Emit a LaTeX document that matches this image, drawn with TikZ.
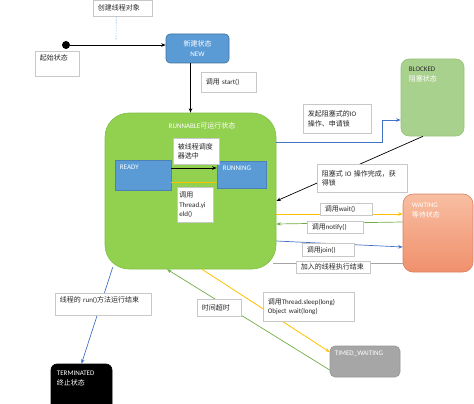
\documentclass[tikz,border=0pt]{standalone}
\usepackage{fontspec}
\setmainfont{Carlito}
\newfontfamily\cjk{Noto Sans CJK SC}
\newcommand\zh[1]{{\cjk #1}}
\usetikzlibrary{arrows.meta}
\definecolor{newblue}{HTML}{5B9BD5}
\definecolor{newborder}{HTML}{41719C}
\definecolor{rgreen}{HTML}{92D050}
\definecolor{rgreenb}{HTML}{7FBF45}
\definecolor{bgreen}{HTML}{A9D18E}
\definecolor{bgreenb}{HTML}{97C47A}
\definecolor{wtop}{HTML}{F8BEA2}
\definecolor{wbot}{HTML}{F0906C}
\definecolor{tgray}{HTML}{A6A6A6}
\definecolor{lblue}{HTML}{4472C4}
\definecolor{lyellow}{HTML}{FFC000}
\definecolor{lgreen}{HTML}{70AD47}
\definecolor{lgray}{HTML}{A5A5A5}
\definecolor{notegray}{HTML}{C8C8C8}
\definecolor{notetext}{HTML}{262626}
\definecolor{dashblue}{HTML}{9DC3E6}
\begin{document}
\begin{tikzpicture}[x=1pt,y=-1pt,
  font=\fontsize{7}{9.6}\selectfont,
  >={Stealth[length=4.5pt,width=3.5pt]},
  state/.style={inner sep=0pt, line width=0.6pt},
  tl/.style={anchor=north west, inner sep=0pt, align=left, text=white, font=\fontsize{7}{10}\selectfont},
  note/.style={draw=notegray, fill=white, text=notetext, anchor=north west, inner xsep=4.5pt, inner ysep=2pt, align=left, line width=0.6pt},
  kline/.style={draw=black, line width=0.7pt},
  bline/.style={draw=lblue, line width=0.7pt},
  yline/.style={draw=lyellow, line width=0.8pt},
  gline/.style={draw=lgreen, line width=0.7pt},
  grayline/.style={draw=lgray, line width=0.8pt},
  dashline/.style={draw=dashblue, line width=0.6pt, dash pattern=on 1.5pt off 1.2pt}]
\useasboundingbox (0,0) rectangle (474,404);

% states
\node[circle, fill=black, minimum size=8pt, inner sep=0pt] (dot) at (66,45) {};
\node[state, draw=newborder, fill=newblue, rounded corners=4pt, minimum width=63pt, minimum height=29pt, text=white, align=center] (new) at (197.5,48.5) {\zh{新建状态}\\NEW};
\node[state, draw=rgreenb, fill=rgreen, rounded corners=24pt, minimum width=171pt, minimum height=156pt,
  label={[anchor=north, inner sep=0pt, text=white, xshift=11.5pt, yshift=-10pt]north:RUNNABLE\zh{可运行状态}}] (runnable) at (190.5,191) {};
\node[state, draw=newborder!60!newblue, fill=newblue, minimum width=56pt, minimum height=30pt,
  label={[tl, xshift=5pt, yshift=-5pt]north west:READY}] (ready) at (143,175) {};
\node[state, draw=newborder!60!newblue, fill=newblue, minimum width=49pt, minimum height=27pt,
  label={[tl, xshift=6pt, yshift=-5pt]north west:RUNNING}] (running) at (241.5,174.5) {};
\node[state, draw=bgreenb, fill=bgreen, rounded corners=8pt, minimum width=63pt, minimum height=77pt,
  label={[tl, xshift=8pt, yshift=-8pt]north west:{\color{black!85}BLOCKED}\\\zh{阻塞状态}}] (blocked) at (432.5,97.5) {};
\node[state, draw=wbot!90!black, top color=wtop, bottom color=wbot, rounded corners=10pt, minimum width=70pt, minimum height=78pt,
  label={[tl, xshift=9pt, yshift=-9pt]north west:WAITING\\\zh{等待状态}}] (waiting) at (438,233) {};
\node[state, draw=tgray!90!black, fill=tgray, rounded corners=5pt, minimum width=70pt, minimum height=31pt,
  label={[tl, xshift=5pt, yshift=-5pt]north west:TIMED\_WAITING}] (timed) at (365,361.5) {};
\node[state, draw=black, fill=black, rounded corners=6pt, minimum width=61pt, minimum height=46pt,
  label={[tl, xshift=6pt, yshift=-7pt]north west:TERMINATED\\\zh{终止状态}}] (term) at (81.5,387) {};

% connectors
\draw[kline,->] (dot.east) -- (dot.east -| new.west);
\draw[kline,->] (new.south -| runnable.north) -- (runnable.north);
\draw[kline,->,line width=1pt] ([yshift=7pt]ready.east) -- ([yshift=7pt]ready.east -| running.west);
\draw[yline] ([yshift=-7.5pt]running.west) -- ([yshift=-7.5pt]running.west -| ready.east);
\draw[bline,->] ([yshift=49pt]runnable.east) -| ([xshift=-18pt,yshift=-22.5pt]blocked.west) -- ([yshift=-22.5pt]blocked.west);
\draw[kline,->] ([xshift=-9.5pt]blocked.south) -- ([yshift=-10pt]runnable.east);
\draw[yline,->] ([yshift=-23pt]runnable.east) -- ([yshift=-23pt]runnable.east -| waiting.west);
\draw[gline,->] ([yshift=11pt]waiting.west) -- ([yshift=-33pt]runnable.east);
\draw[bline,->] ([yshift=-50pt]runnable.east) -- ([yshift=-14pt]waiting.west);
\draw[grayline] ([yshift=-30pt]waiting.west) -- ([xshift=-130pt,yshift=-30pt]waiting.west);
\draw[bline,->] ([xshift=8pt,yshift=2pt]runnable.south west) -- (term.north);
\draw[yline,->] ([xshift=11.5pt]runnable.south) -- ([yshift=9.5pt]timed.west);
\draw[gline,->] ([yshift=-8.5pt]timed.west) -- ([xshift=-23.5pt]runnable.south);

% notes
\node[note, text width=50pt, minimum height=16pt] (lcreate) at (93,0) {\zh{创建线程对象}};
\node[note, text width=35pt, minimum height=25pt, text height=6pt, text depth=13pt] (lstart) at (35,51) {\zh{起始状态}};
\node[note, text width=46pt, minimum height=20pt] (lcall) at (201,72) {\zh{调用} start()};
\node[note, text width=37pt, minimum height=26pt] (lsel) at (173,138) {\zh{被线程调度}\\\zh{器选中}};
\node[note, inner xsep=2pt, text width=32pt, minimum height=35pt] (lyield) at (177,187) {\zh{调用}\\Thread.yi\\eld()};
\node[note, text width=59pt, minimum height=29pt] (lbio) at (303,104) {\zh{发起阻塞式的}IO\\\zh{操作、申请锁}};
\node[note, text width=81pt, minimum height=28pt] (liodone) at (317,164) {\zh{阻塞式} IO \zh{操作完成，获}\\\zh{得锁}};
\node[note, text width=43pt, minimum height=12pt] (lwait) at (320,203) {\zh{调用}wait()};
\node[note, text width=47pt, minimum height=12pt] (lnotify) at (307,221) {\zh{调用}notify()};
\node[note, text width=43pt, minimum height=13pt] (ljoin) at (302,243) {\zh{调用}join()};
\node[note, text width=65pt, minimum height=12pt] (ljoinend) at (296,261) {\zh{加入的线程执行结束}};
\node[note, text width=87pt, minimum height=22pt, text height=6pt, text depth=10pt] (lrun) at (55,293) {\zh{线程的} run()\zh{方法运行结束}};
\node[note, text width=35pt, minimum height=17pt] (ltimeout) at (197,299) {\zh{时间超时}};
\node[note, text width=82pt, minimum height=29pt] (lsleep) at (263,292) {\zh{调用}Thread.sleep(long)\\Object wait(long)};

\coordinate (dashend) at (116,40);
\draw[dashline] ([xshift=-6.5pt]lcreate.south) -- (dashend);
\end{tikzpicture}
\end{document}
